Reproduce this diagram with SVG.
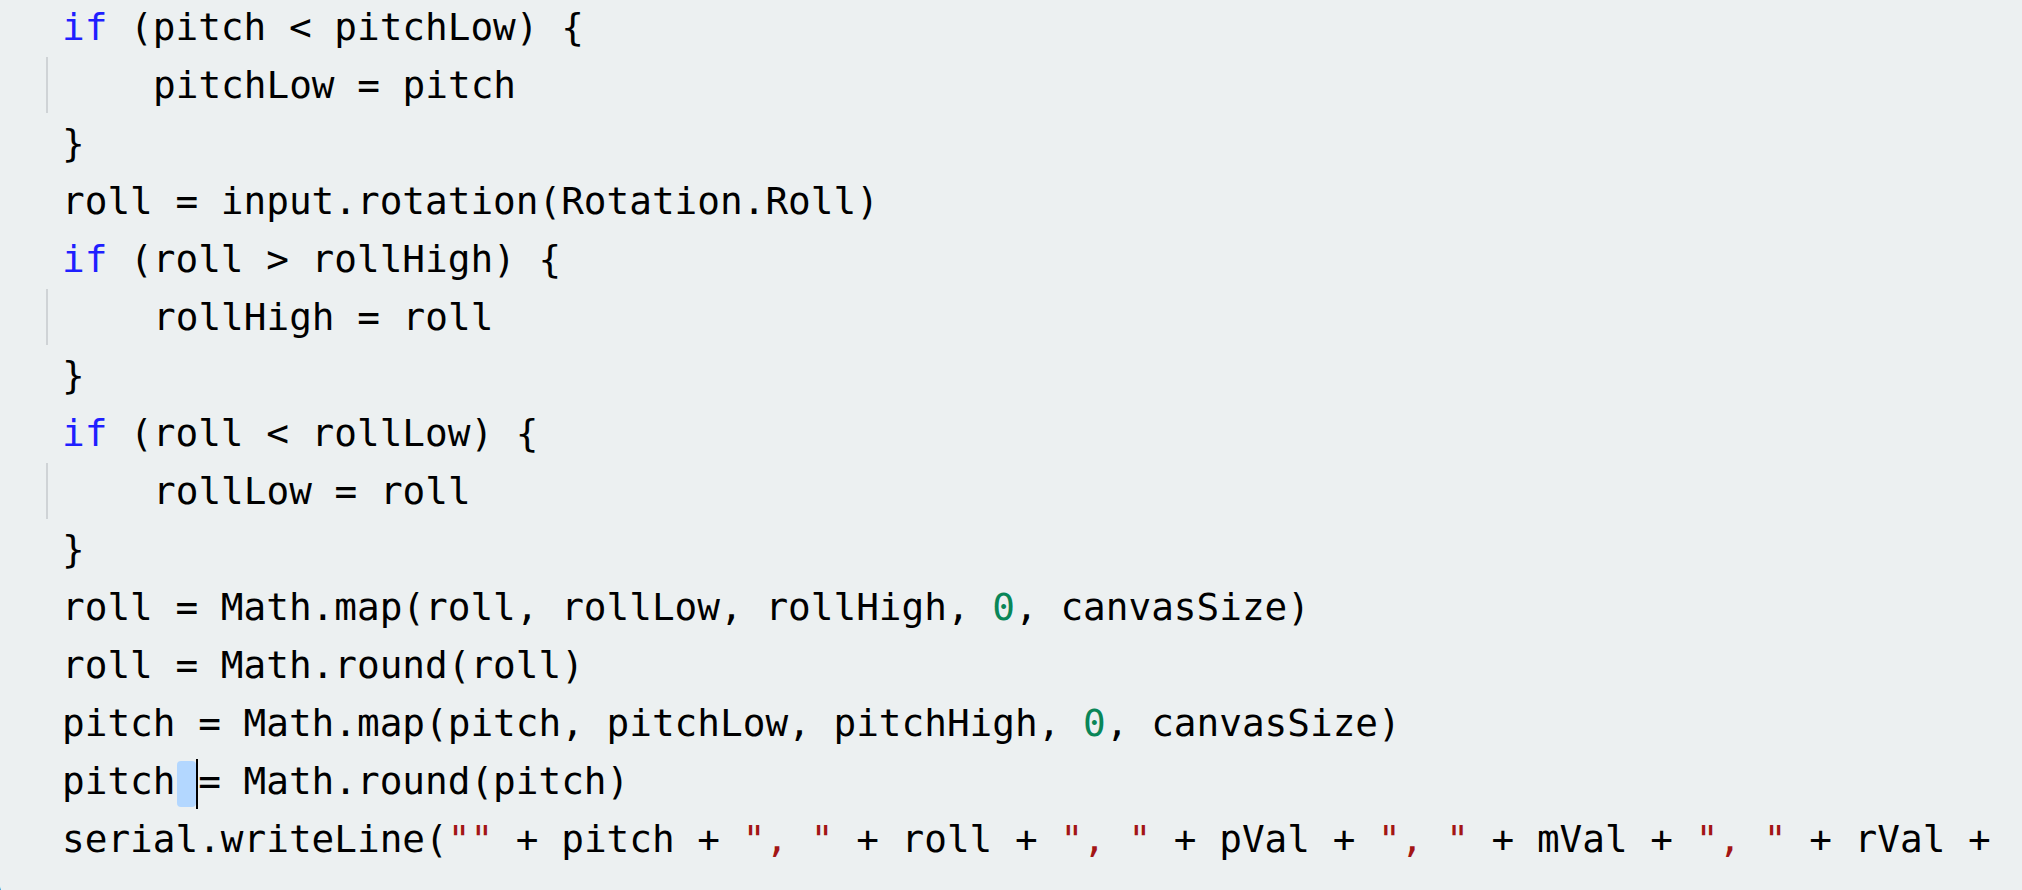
<svg xmlns="http://www.w3.org/2000/svg" width="2022" height="890" viewBox="0 0 2022 890">
<style>
text{font-family:"DejaVu Sans Mono","Liberation Mono",monospace;font-size:37.7px;fill:#000;white-space:pre}
.k{fill:#1f1fff}.n{fill:#098658}.s{fill:#a31515}
.g{stroke:#cfd3d6;stroke-width:2}
</style>
<rect width="2022" height="890" fill="#ecf0f1"/>
<line class="g" x1="47" y1="57" x2="47" y2="113"/>
<line class="g" x1="47" y1="289" x2="47" y2="345"/>
<line class="g" x1="47" y1="463" x2="47" y2="519"/>
<rect x="177" y="761" width="19" height="46" rx="4" fill="#b3d7ff"/>
<g id="code" xml:space="preserve">
<text x="62" y="40"><tspan class="k">if</tspan> (pitch &lt; pitchLow) {</text>
<text x="153" y="98">pitchLow = pitch</text>
<text x="62" y="156">}</text>
<text x="62" y="214">roll = input.rotation(Rotation.Roll)</text>
<text x="62" y="272"><tspan class="k">if</tspan> (roll &gt; rollHigh) {</text>
<text x="153" y="330">rollHigh = roll</text>
<text x="62" y="388">}</text>
<text x="62" y="446"><tspan class="k">if</tspan> (roll &lt; rollLow) {</text>
<text x="153" y="504">rollLow = roll</text>
<text x="62" y="562">}</text>
<text x="62" y="620">roll = Math.map(roll, rollLow, rollHigh, <tspan class="n">0</tspan>, canvasSize)</text>
<text x="62" y="678">roll = Math.round(roll)</text>
<text x="62" y="736">pitch = Math.map(pitch, pitchLow, pitchHigh, <tspan class="n">0</tspan>, canvasSize)</text>
<text x="62" y="794">pitch = Math.round(pitch)</text>
<text x="62" y="852">serial.writeLine(<tspan class="s">""</tspan> + pitch + <tspan class="s">", "</tspan> + roll + <tspan class="s">", "</tspan> + pVal + <tspan class="s">", "</tspan> + mVal + <tspan class="s">", "</tspan> + rVal +</text>
<text x="-14" y="906">)</text>
</g>
<line x1="197" y1="759" x2="197" y2="809" stroke="#000" stroke-width="2"/>
</svg>
